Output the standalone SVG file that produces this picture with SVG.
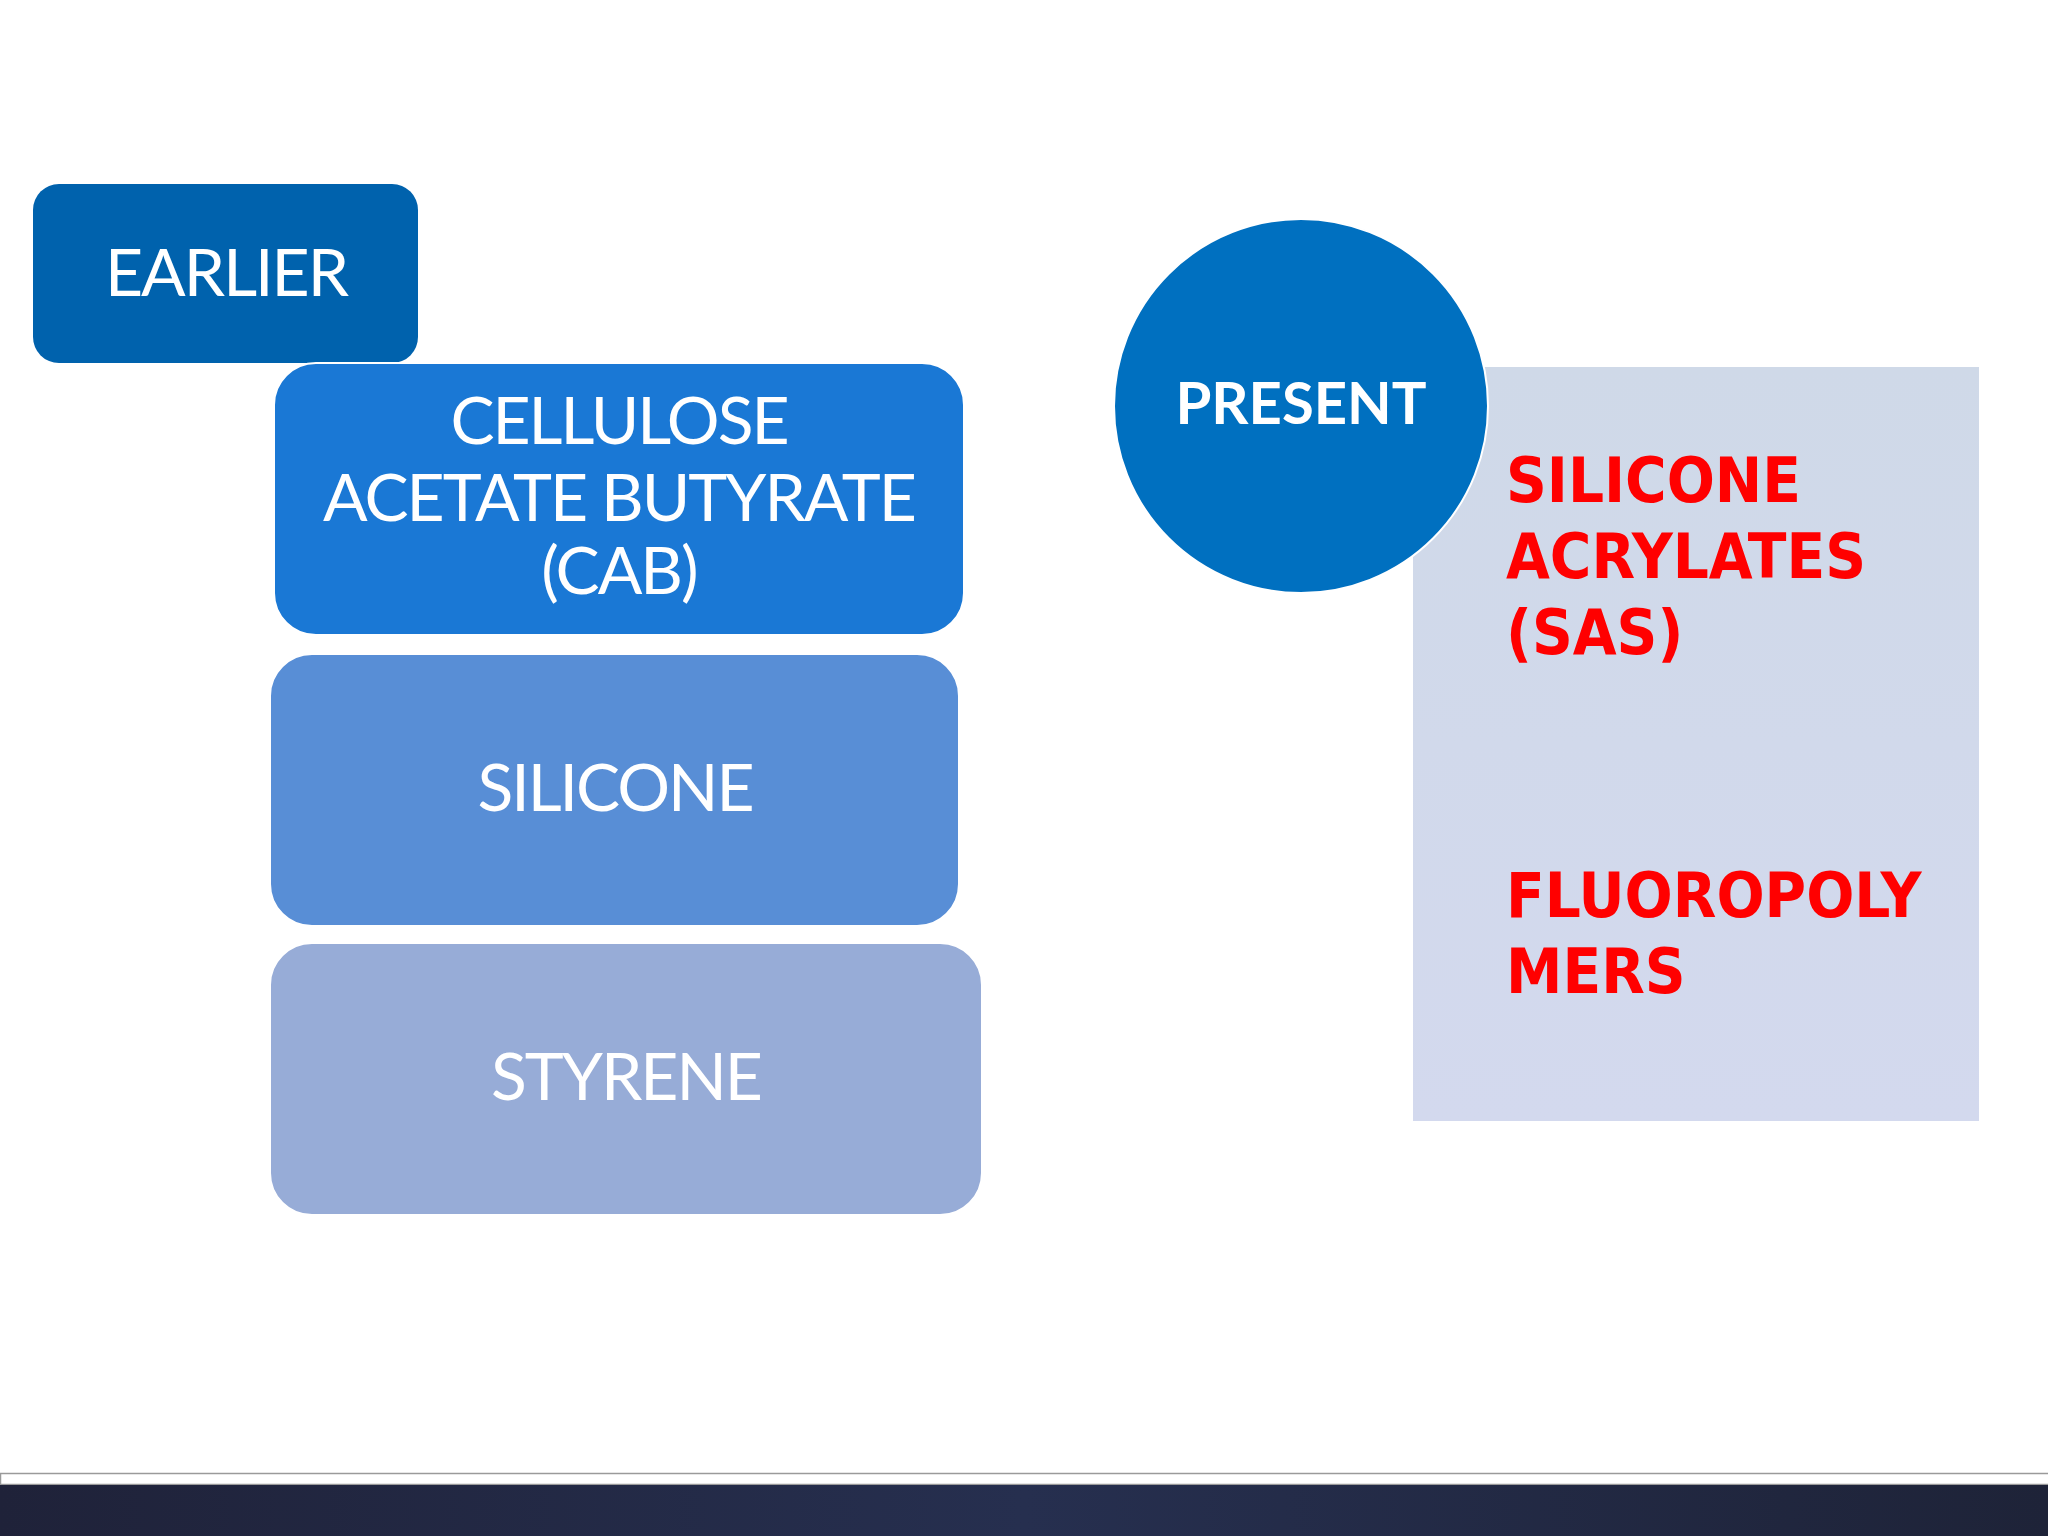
<svg xmlns="http://www.w3.org/2000/svg" width="2048" height="1536" viewBox="0 0 2048 1536">
<defs>
<linearGradient id="panel" x1="0" y1="0" x2="0" y2="1">
<stop offset="0" stop-color="#cfd9e8"/>
<stop offset="1" stop-color="#d3d9ee"/>
</linearGradient>
<linearGradient id="band" x1="0" y1="0" x2="1" y2="0">
<stop offset="0" stop-color="#1f2239"/>
<stop offset="0.5" stop-color="#262f4f"/>
<stop offset="1" stop-color="#1e2338"/>
</linearGradient>
</defs>
<style>
.w{fill:#ffffff;font-family:Lato,"DejaVu Sans",sans-serif;font-weight:400;font-size:66px;letter-spacing:-2px;text-anchor:middle}
.r{fill:#ff0000;font-family:"DejaVu Sans Condensed","DejaVu Sans",sans-serif;font-stretch:condensed;font-weight:bold;font-size:63px}
.box{stroke:#ffffff;stroke-width:2}
</style>
<rect width="2048" height="1536" fill="#ffffff"/>
<g id="earlier">
<rect x="33" y="184" width="385" height="179" rx="26" fill="#0062ad"/>
<text class="w" x="226" y="296">EARLIER</text>
</g>
<g id="cab">
<rect class="box" x="274" y="363" width="690" height="272" rx="42" fill="#1a78d5"/>
<text class="w" x="619" y="444">CELLULOSE</text>
<text class="w" x="619" y="521">ACETATE BUTYRATE</text>
<text class="w" x="619" y="594">(CAB)</text>
</g>
<g id="silicone">
<rect class="box" x="270" y="654" width="689" height="272" rx="42" fill="#588ed6"/>
<text class="w" x="615" y="811">SILICONE</text>
</g>
<g id="styrene">
<rect class="box" x="270" y="943" width="712" height="272" rx="42" fill="#97acd7"/>
<text class="w" x="626" y="1100">STYRENE</text>
</g>
<g id="present-list">
<rect x="1413" y="367" width="566" height="754" fill="url(#panel)"/>
<text class="r" x="1506" y="502">SILICONE</text>
<text class="r" x="1506" y="578">ACRYLATES</text>
<text class="r" x="1506" y="654">(SAS)</text>
<text class="r" x="1506" y="917">FLUOROPOLY</text>
<text class="r" x="1506" y="993">MERS</text>
</g>
<g id="present">
<circle cx="1301" cy="406" r="187" fill="#0070c0" stroke="#ffffff" stroke-width="2"/>
<text x="1301" y="424" fill="#ffffff" font-family="Lato,'DejaVu Sans',sans-serif" font-weight="bold" font-size="58" text-anchor="middle">PRESENT</text>
</g>
<g id="connectors"></g>
<g id="footer">
<rect x="0.5" y="1473.5" width="2050" height="11" fill="#ffffff" stroke="#9a9a9a" stroke-width="1.5"/>
<rect x="0" y="1485" width="2048" height="51" fill="url(#band)"/>
</g>
</svg>
